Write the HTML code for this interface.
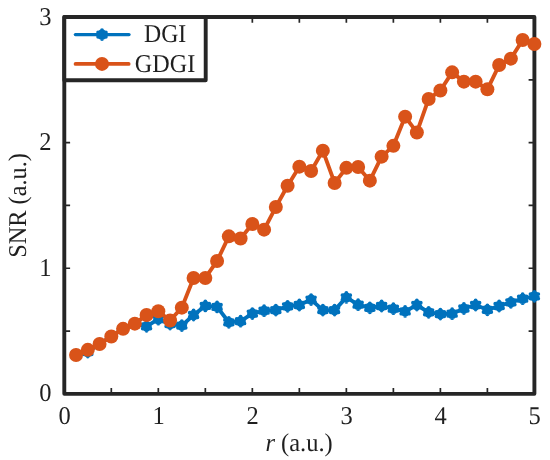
<!DOCTYPE html>
<html><head><meta charset="utf-8"><title>SNR plot</title>
<style>
html,body{margin:0;padding:0;background:#fff;}
body{width:550px;height:460px;overflow:hidden;}
svg{display:block;}
text{font-family:"Liberation Serif",serif;font-size:25.6px;text-rendering:geometricPrecision;fill:#1f1f1f;}
</style></head><body>
<svg width="550" height="460" viewBox="0 0 550 460">
<rect x="0" y="0" width="550" height="460" fill="#fff"/>
<path d="M111.31 393.85 v-5.8 M111.31 17.0 v5.8 M158.32 393.85 v-5.8 M158.32 17.0 v5.8 M205.33 393.85 v-5.8 M205.33 17.0 v5.8 M252.34 393.85 v-5.8 M252.34 17.0 v5.8 M299.35 393.85 v-5.8 M299.35 17.0 v5.8 M346.36 393.85 v-5.8 M346.36 17.0 v5.8 M393.37 393.85 v-5.8 M393.37 17.0 v5.8 M440.38 393.85 v-5.8 M440.38 17.0 v5.8 M487.39 393.85 v-5.8 M487.39 17.0 v5.8 M64.3 331.04 h5.8 M534.4 331.04 h-5.8 M64.3 268.23 h5.8 M534.4 268.23 h-5.8 M64.3 205.42 h5.8 M534.4 205.42 h-5.8 M64.3 142.62 h5.8 M534.4 142.62 h-5.8 M64.3 79.81 h5.8 M534.4 79.81 h-5.8" stroke="#262626" stroke-width="1.7" fill="none"/>
<rect x="64.3" y="17.0" width="470.10" height="376.85" fill="none" stroke="#262626" stroke-width="3.9" stroke-linejoin="round"/>
<polyline points="76.05,354.80 87.80,352.00 99.56,343.90 111.31,336.30 123.06,328.70 134.81,323.50 146.57,326.30 158.32,319.20 170.07,324.10 181.82,325.60 193.58,315.00 205.33,305.90 217.08,306.90 228.83,322.30 240.59,321.20 252.34,313.60 264.09,310.70 275.84,310.10 287.60,306.30 299.35,305.00 311.10,299.60 322.85,310.10 334.61,310.10 346.36,297.40 358.11,304.70 369.86,307.80 381.62,306.00 393.37,308.70 405.12,311.40 416.87,305.00 428.63,312.30 440.38,314.10 452.13,313.70 463.88,308.50 475.64,305.00 487.39,309.80 499.14,306.00 510.89,302.30 522.65,298.70 534.40,296.30" fill="none" stroke="#0072BD" stroke-width="3.9" stroke-linejoin="round" stroke-linecap="round"/>
<g fill="#0072BD">
<path d="M70.80 354.80a5.25 5.25 0 1 0 10.5 0a5.25 5.25 0 1 0 -10.5 0zM74.15 350.30a1.9 1.9 0 1 0 3.8 0a1.9 1.9 0 1 0 -3.8 0zM78.05 352.55a1.9 1.9 0 1 0 3.8 0a1.9 1.9 0 1 0 -3.8 0zM78.05 357.05a1.9 1.9 0 1 0 3.8 0a1.9 1.9 0 1 0 -3.8 0zM74.15 359.30a1.9 1.9 0 1 0 3.8 0a1.9 1.9 0 1 0 -3.8 0zM70.26 357.05a1.9 1.9 0 1 0 3.8 0a1.9 1.9 0 1 0 -3.8 0zM70.26 352.55a1.9 1.9 0 1 0 3.8 0a1.9 1.9 0 1 0 -3.8 0z"/>
<path d="M82.55 352.00a5.25 5.25 0 1 0 10.5 0a5.25 5.25 0 1 0 -10.5 0zM85.90 347.50a1.9 1.9 0 1 0 3.8 0a1.9 1.9 0 1 0 -3.8 0zM89.80 349.75a1.9 1.9 0 1 0 3.8 0a1.9 1.9 0 1 0 -3.8 0zM89.80 354.25a1.9 1.9 0 1 0 3.8 0a1.9 1.9 0 1 0 -3.8 0zM85.90 356.50a1.9 1.9 0 1 0 3.8 0a1.9 1.9 0 1 0 -3.8 0zM82.01 354.25a1.9 1.9 0 1 0 3.8 0a1.9 1.9 0 1 0 -3.8 0zM82.01 349.75a1.9 1.9 0 1 0 3.8 0a1.9 1.9 0 1 0 -3.8 0z"/>
<path d="M94.31 343.90a5.25 5.25 0 1 0 10.5 0a5.25 5.25 0 1 0 -10.5 0zM97.66 339.40a1.9 1.9 0 1 0 3.8 0a1.9 1.9 0 1 0 -3.8 0zM101.55 341.65a1.9 1.9 0 1 0 3.8 0a1.9 1.9 0 1 0 -3.8 0zM101.55 346.15a1.9 1.9 0 1 0 3.8 0a1.9 1.9 0 1 0 -3.8 0zM97.66 348.40a1.9 1.9 0 1 0 3.8 0a1.9 1.9 0 1 0 -3.8 0zM93.76 346.15a1.9 1.9 0 1 0 3.8 0a1.9 1.9 0 1 0 -3.8 0zM93.76 341.65a1.9 1.9 0 1 0 3.8 0a1.9 1.9 0 1 0 -3.8 0z"/>
<path d="M106.06 336.30a5.25 5.25 0 1 0 10.5 0a5.25 5.25 0 1 0 -10.5 0zM109.41 331.80a1.9 1.9 0 1 0 3.8 0a1.9 1.9 0 1 0 -3.8 0zM113.31 334.05a1.9 1.9 0 1 0 3.8 0a1.9 1.9 0 1 0 -3.8 0zM113.31 338.55a1.9 1.9 0 1 0 3.8 0a1.9 1.9 0 1 0 -3.8 0zM109.41 340.80a1.9 1.9 0 1 0 3.8 0a1.9 1.9 0 1 0 -3.8 0zM105.51 338.55a1.9 1.9 0 1 0 3.8 0a1.9 1.9 0 1 0 -3.8 0zM105.51 334.05a1.9 1.9 0 1 0 3.8 0a1.9 1.9 0 1 0 -3.8 0z"/>
<path d="M117.81 328.70a5.25 5.25 0 1 0 10.5 0a5.25 5.25 0 1 0 -10.5 0zM121.16 324.20a1.9 1.9 0 1 0 3.8 0a1.9 1.9 0 1 0 -3.8 0zM125.06 326.45a1.9 1.9 0 1 0 3.8 0a1.9 1.9 0 1 0 -3.8 0zM125.06 330.95a1.9 1.9 0 1 0 3.8 0a1.9 1.9 0 1 0 -3.8 0zM121.16 333.20a1.9 1.9 0 1 0 3.8 0a1.9 1.9 0 1 0 -3.8 0zM117.27 330.95a1.9 1.9 0 1 0 3.8 0a1.9 1.9 0 1 0 -3.8 0zM117.27 326.45a1.9 1.9 0 1 0 3.8 0a1.9 1.9 0 1 0 -3.8 0z"/>
<path d="M129.56 323.50a5.25 5.25 0 1 0 10.5 0a5.25 5.25 0 1 0 -10.5 0zM132.91 319.00a1.9 1.9 0 1 0 3.8 0a1.9 1.9 0 1 0 -3.8 0zM136.81 321.25a1.9 1.9 0 1 0 3.8 0a1.9 1.9 0 1 0 -3.8 0zM136.81 325.75a1.9 1.9 0 1 0 3.8 0a1.9 1.9 0 1 0 -3.8 0zM132.91 328.00a1.9 1.9 0 1 0 3.8 0a1.9 1.9 0 1 0 -3.8 0zM129.02 325.75a1.9 1.9 0 1 0 3.8 0a1.9 1.9 0 1 0 -3.8 0zM129.02 321.25a1.9 1.9 0 1 0 3.8 0a1.9 1.9 0 1 0 -3.8 0z"/>
<path d="M141.32 326.30a5.25 5.25 0 1 0 10.5 0a5.25 5.25 0 1 0 -10.5 0zM144.67 321.80a1.9 1.9 0 1 0 3.8 0a1.9 1.9 0 1 0 -3.8 0zM148.56 324.05a1.9 1.9 0 1 0 3.8 0a1.9 1.9 0 1 0 -3.8 0zM148.56 328.55a1.9 1.9 0 1 0 3.8 0a1.9 1.9 0 1 0 -3.8 0zM144.67 330.80a1.9 1.9 0 1 0 3.8 0a1.9 1.9 0 1 0 -3.8 0zM140.77 328.55a1.9 1.9 0 1 0 3.8 0a1.9 1.9 0 1 0 -3.8 0zM140.77 324.05a1.9 1.9 0 1 0 3.8 0a1.9 1.9 0 1 0 -3.8 0z"/>
<path d="M153.07 319.20a5.25 5.25 0 1 0 10.5 0a5.25 5.25 0 1 0 -10.5 0zM156.42 314.70a1.9 1.9 0 1 0 3.8 0a1.9 1.9 0 1 0 -3.8 0zM160.32 316.95a1.9 1.9 0 1 0 3.8 0a1.9 1.9 0 1 0 -3.8 0zM160.32 321.45a1.9 1.9 0 1 0 3.8 0a1.9 1.9 0 1 0 -3.8 0zM156.42 323.70a1.9 1.9 0 1 0 3.8 0a1.9 1.9 0 1 0 -3.8 0zM152.52 321.45a1.9 1.9 0 1 0 3.8 0a1.9 1.9 0 1 0 -3.8 0zM152.52 316.95a1.9 1.9 0 1 0 3.8 0a1.9 1.9 0 1 0 -3.8 0z"/>
<path d="M164.82 324.10a5.25 5.25 0 1 0 10.5 0a5.25 5.25 0 1 0 -10.5 0zM168.17 319.60a1.9 1.9 0 1 0 3.8 0a1.9 1.9 0 1 0 -3.8 0zM172.07 321.85a1.9 1.9 0 1 0 3.8 0a1.9 1.9 0 1 0 -3.8 0zM172.07 326.35a1.9 1.9 0 1 0 3.8 0a1.9 1.9 0 1 0 -3.8 0zM168.17 328.60a1.9 1.9 0 1 0 3.8 0a1.9 1.9 0 1 0 -3.8 0zM164.28 326.35a1.9 1.9 0 1 0 3.8 0a1.9 1.9 0 1 0 -3.8 0zM164.28 321.85a1.9 1.9 0 1 0 3.8 0a1.9 1.9 0 1 0 -3.8 0z"/>
<path d="M176.57 325.60a5.25 5.25 0 1 0 10.5 0a5.25 5.25 0 1 0 -10.5 0zM179.92 321.10a1.9 1.9 0 1 0 3.8 0a1.9 1.9 0 1 0 -3.8 0zM183.82 323.35a1.9 1.9 0 1 0 3.8 0a1.9 1.9 0 1 0 -3.8 0zM183.82 327.85a1.9 1.9 0 1 0 3.8 0a1.9 1.9 0 1 0 -3.8 0zM179.92 330.10a1.9 1.9 0 1 0 3.8 0a1.9 1.9 0 1 0 -3.8 0zM176.03 327.85a1.9 1.9 0 1 0 3.8 0a1.9 1.9 0 1 0 -3.8 0zM176.03 323.35a1.9 1.9 0 1 0 3.8 0a1.9 1.9 0 1 0 -3.8 0z"/>
<path d="M188.33 315.00a5.25 5.25 0 1 0 10.5 0a5.25 5.25 0 1 0 -10.5 0zM191.68 310.50a1.9 1.9 0 1 0 3.8 0a1.9 1.9 0 1 0 -3.8 0zM195.57 312.75a1.9 1.9 0 1 0 3.8 0a1.9 1.9 0 1 0 -3.8 0zM195.57 317.25a1.9 1.9 0 1 0 3.8 0a1.9 1.9 0 1 0 -3.8 0zM191.68 319.50a1.9 1.9 0 1 0 3.8 0a1.9 1.9 0 1 0 -3.8 0zM187.78 317.25a1.9 1.9 0 1 0 3.8 0a1.9 1.9 0 1 0 -3.8 0zM187.78 312.75a1.9 1.9 0 1 0 3.8 0a1.9 1.9 0 1 0 -3.8 0z"/>
<path d="M200.08 305.90a5.25 5.25 0 1 0 10.5 0a5.25 5.25 0 1 0 -10.5 0zM203.43 301.40a1.9 1.9 0 1 0 3.8 0a1.9 1.9 0 1 0 -3.8 0zM207.33 303.65a1.9 1.9 0 1 0 3.8 0a1.9 1.9 0 1 0 -3.8 0zM207.33 308.15a1.9 1.9 0 1 0 3.8 0a1.9 1.9 0 1 0 -3.8 0zM203.43 310.40a1.9 1.9 0 1 0 3.8 0a1.9 1.9 0 1 0 -3.8 0zM199.53 308.15a1.9 1.9 0 1 0 3.8 0a1.9 1.9 0 1 0 -3.8 0zM199.53 303.65a1.9 1.9 0 1 0 3.8 0a1.9 1.9 0 1 0 -3.8 0z"/>
<path d="M211.83 306.90a5.25 5.25 0 1 0 10.5 0a5.25 5.25 0 1 0 -10.5 0zM215.18 302.40a1.9 1.9 0 1 0 3.8 0a1.9 1.9 0 1 0 -3.8 0zM219.08 304.65a1.9 1.9 0 1 0 3.8 0a1.9 1.9 0 1 0 -3.8 0zM219.08 309.15a1.9 1.9 0 1 0 3.8 0a1.9 1.9 0 1 0 -3.8 0zM215.18 311.40a1.9 1.9 0 1 0 3.8 0a1.9 1.9 0 1 0 -3.8 0zM211.29 309.15a1.9 1.9 0 1 0 3.8 0a1.9 1.9 0 1 0 -3.8 0zM211.29 304.65a1.9 1.9 0 1 0 3.8 0a1.9 1.9 0 1 0 -3.8 0z"/>
<path d="M223.58 322.30a5.25 5.25 0 1 0 10.5 0a5.25 5.25 0 1 0 -10.5 0zM226.93 317.80a1.9 1.9 0 1 0 3.8 0a1.9 1.9 0 1 0 -3.8 0zM230.83 320.05a1.9 1.9 0 1 0 3.8 0a1.9 1.9 0 1 0 -3.8 0zM230.83 324.55a1.9 1.9 0 1 0 3.8 0a1.9 1.9 0 1 0 -3.8 0zM226.93 326.80a1.9 1.9 0 1 0 3.8 0a1.9 1.9 0 1 0 -3.8 0zM223.04 324.55a1.9 1.9 0 1 0 3.8 0a1.9 1.9 0 1 0 -3.8 0zM223.04 320.05a1.9 1.9 0 1 0 3.8 0a1.9 1.9 0 1 0 -3.8 0z"/>
<path d="M235.34 321.20a5.25 5.25 0 1 0 10.5 0a5.25 5.25 0 1 0 -10.5 0zM238.69 316.70a1.9 1.9 0 1 0 3.8 0a1.9 1.9 0 1 0 -3.8 0zM242.58 318.95a1.9 1.9 0 1 0 3.8 0a1.9 1.9 0 1 0 -3.8 0zM242.58 323.45a1.9 1.9 0 1 0 3.8 0a1.9 1.9 0 1 0 -3.8 0zM238.69 325.70a1.9 1.9 0 1 0 3.8 0a1.9 1.9 0 1 0 -3.8 0zM234.79 323.45a1.9 1.9 0 1 0 3.8 0a1.9 1.9 0 1 0 -3.8 0zM234.79 318.95a1.9 1.9 0 1 0 3.8 0a1.9 1.9 0 1 0 -3.8 0z"/>
<path d="M247.09 313.60a5.25 5.25 0 1 0 10.5 0a5.25 5.25 0 1 0 -10.5 0zM250.44 309.10a1.9 1.9 0 1 0 3.8 0a1.9 1.9 0 1 0 -3.8 0zM254.34 311.35a1.9 1.9 0 1 0 3.8 0a1.9 1.9 0 1 0 -3.8 0zM254.34 315.85a1.9 1.9 0 1 0 3.8 0a1.9 1.9 0 1 0 -3.8 0zM250.44 318.10a1.9 1.9 0 1 0 3.8 0a1.9 1.9 0 1 0 -3.8 0zM246.54 315.85a1.9 1.9 0 1 0 3.8 0a1.9 1.9 0 1 0 -3.8 0zM246.54 311.35a1.9 1.9 0 1 0 3.8 0a1.9 1.9 0 1 0 -3.8 0z"/>
<path d="M258.84 310.70a5.25 5.25 0 1 0 10.5 0a5.25 5.25 0 1 0 -10.5 0zM262.19 306.20a1.9 1.9 0 1 0 3.8 0a1.9 1.9 0 1 0 -3.8 0zM266.09 308.45a1.9 1.9 0 1 0 3.8 0a1.9 1.9 0 1 0 -3.8 0zM266.09 312.95a1.9 1.9 0 1 0 3.8 0a1.9 1.9 0 1 0 -3.8 0zM262.19 315.20a1.9 1.9 0 1 0 3.8 0a1.9 1.9 0 1 0 -3.8 0zM258.30 312.95a1.9 1.9 0 1 0 3.8 0a1.9 1.9 0 1 0 -3.8 0zM258.30 308.45a1.9 1.9 0 1 0 3.8 0a1.9 1.9 0 1 0 -3.8 0z"/>
<path d="M270.59 310.10a5.25 5.25 0 1 0 10.5 0a5.25 5.25 0 1 0 -10.5 0zM273.94 305.60a1.9 1.9 0 1 0 3.8 0a1.9 1.9 0 1 0 -3.8 0zM277.84 307.85a1.9 1.9 0 1 0 3.8 0a1.9 1.9 0 1 0 -3.8 0zM277.84 312.35a1.9 1.9 0 1 0 3.8 0a1.9 1.9 0 1 0 -3.8 0zM273.94 314.60a1.9 1.9 0 1 0 3.8 0a1.9 1.9 0 1 0 -3.8 0zM270.05 312.35a1.9 1.9 0 1 0 3.8 0a1.9 1.9 0 1 0 -3.8 0zM270.05 307.85a1.9 1.9 0 1 0 3.8 0a1.9 1.9 0 1 0 -3.8 0z"/>
<path d="M282.35 306.30a5.25 5.25 0 1 0 10.5 0a5.25 5.25 0 1 0 -10.5 0zM285.70 301.80a1.9 1.9 0 1 0 3.8 0a1.9 1.9 0 1 0 -3.8 0zM289.59 304.05a1.9 1.9 0 1 0 3.8 0a1.9 1.9 0 1 0 -3.8 0zM289.59 308.55a1.9 1.9 0 1 0 3.8 0a1.9 1.9 0 1 0 -3.8 0zM285.70 310.80a1.9 1.9 0 1 0 3.8 0a1.9 1.9 0 1 0 -3.8 0zM281.80 308.55a1.9 1.9 0 1 0 3.8 0a1.9 1.9 0 1 0 -3.8 0zM281.80 304.05a1.9 1.9 0 1 0 3.8 0a1.9 1.9 0 1 0 -3.8 0z"/>
<path d="M294.10 305.00a5.25 5.25 0 1 0 10.5 0a5.25 5.25 0 1 0 -10.5 0zM297.45 300.50a1.9 1.9 0 1 0 3.8 0a1.9 1.9 0 1 0 -3.8 0zM301.35 302.75a1.9 1.9 0 1 0 3.8 0a1.9 1.9 0 1 0 -3.8 0zM301.35 307.25a1.9 1.9 0 1 0 3.8 0a1.9 1.9 0 1 0 -3.8 0zM297.45 309.50a1.9 1.9 0 1 0 3.8 0a1.9 1.9 0 1 0 -3.8 0zM293.55 307.25a1.9 1.9 0 1 0 3.8 0a1.9 1.9 0 1 0 -3.8 0zM293.55 302.75a1.9 1.9 0 1 0 3.8 0a1.9 1.9 0 1 0 -3.8 0z"/>
<path d="M305.85 299.60a5.25 5.25 0 1 0 10.5 0a5.25 5.25 0 1 0 -10.5 0zM309.20 295.10a1.9 1.9 0 1 0 3.8 0a1.9 1.9 0 1 0 -3.8 0zM313.10 297.35a1.9 1.9 0 1 0 3.8 0a1.9 1.9 0 1 0 -3.8 0zM313.10 301.85a1.9 1.9 0 1 0 3.8 0a1.9 1.9 0 1 0 -3.8 0zM309.20 304.10a1.9 1.9 0 1 0 3.8 0a1.9 1.9 0 1 0 -3.8 0zM305.31 301.85a1.9 1.9 0 1 0 3.8 0a1.9 1.9 0 1 0 -3.8 0zM305.31 297.35a1.9 1.9 0 1 0 3.8 0a1.9 1.9 0 1 0 -3.8 0z"/>
<path d="M317.60 310.10a5.25 5.25 0 1 0 10.5 0a5.25 5.25 0 1 0 -10.5 0zM320.95 305.60a1.9 1.9 0 1 0 3.8 0a1.9 1.9 0 1 0 -3.8 0zM324.85 307.85a1.9 1.9 0 1 0 3.8 0a1.9 1.9 0 1 0 -3.8 0zM324.85 312.35a1.9 1.9 0 1 0 3.8 0a1.9 1.9 0 1 0 -3.8 0zM320.95 314.60a1.9 1.9 0 1 0 3.8 0a1.9 1.9 0 1 0 -3.8 0zM317.06 312.35a1.9 1.9 0 1 0 3.8 0a1.9 1.9 0 1 0 -3.8 0zM317.06 307.85a1.9 1.9 0 1 0 3.8 0a1.9 1.9 0 1 0 -3.8 0z"/>
<path d="M329.36 310.10a5.25 5.25 0 1 0 10.5 0a5.25 5.25 0 1 0 -10.5 0zM332.71 305.60a1.9 1.9 0 1 0 3.8 0a1.9 1.9 0 1 0 -3.8 0zM336.60 307.85a1.9 1.9 0 1 0 3.8 0a1.9 1.9 0 1 0 -3.8 0zM336.60 312.35a1.9 1.9 0 1 0 3.8 0a1.9 1.9 0 1 0 -3.8 0zM332.71 314.60a1.9 1.9 0 1 0 3.8 0a1.9 1.9 0 1 0 -3.8 0zM328.81 312.35a1.9 1.9 0 1 0 3.8 0a1.9 1.9 0 1 0 -3.8 0zM328.81 307.85a1.9 1.9 0 1 0 3.8 0a1.9 1.9 0 1 0 -3.8 0z"/>
<path d="M341.11 297.40a5.25 5.25 0 1 0 10.5 0a5.25 5.25 0 1 0 -10.5 0zM344.46 292.90a1.9 1.9 0 1 0 3.8 0a1.9 1.9 0 1 0 -3.8 0zM348.36 295.15a1.9 1.9 0 1 0 3.8 0a1.9 1.9 0 1 0 -3.8 0zM348.36 299.65a1.9 1.9 0 1 0 3.8 0a1.9 1.9 0 1 0 -3.8 0zM344.46 301.90a1.9 1.9 0 1 0 3.8 0a1.9 1.9 0 1 0 -3.8 0zM340.56 299.65a1.9 1.9 0 1 0 3.8 0a1.9 1.9 0 1 0 -3.8 0zM340.56 295.15a1.9 1.9 0 1 0 3.8 0a1.9 1.9 0 1 0 -3.8 0z"/>
<path d="M352.86 304.70a5.25 5.25 0 1 0 10.5 0a5.25 5.25 0 1 0 -10.5 0zM356.21 300.20a1.9 1.9 0 1 0 3.8 0a1.9 1.9 0 1 0 -3.8 0zM360.11 302.45a1.9 1.9 0 1 0 3.8 0a1.9 1.9 0 1 0 -3.8 0zM360.11 306.95a1.9 1.9 0 1 0 3.8 0a1.9 1.9 0 1 0 -3.8 0zM356.21 309.20a1.9 1.9 0 1 0 3.8 0a1.9 1.9 0 1 0 -3.8 0zM352.32 306.95a1.9 1.9 0 1 0 3.8 0a1.9 1.9 0 1 0 -3.8 0zM352.32 302.45a1.9 1.9 0 1 0 3.8 0a1.9 1.9 0 1 0 -3.8 0z"/>
<path d="M364.61 307.80a5.25 5.25 0 1 0 10.5 0a5.25 5.25 0 1 0 -10.5 0zM367.96 303.30a1.9 1.9 0 1 0 3.8 0a1.9 1.9 0 1 0 -3.8 0zM371.86 305.55a1.9 1.9 0 1 0 3.8 0a1.9 1.9 0 1 0 -3.8 0zM371.86 310.05a1.9 1.9 0 1 0 3.8 0a1.9 1.9 0 1 0 -3.8 0zM367.96 312.30a1.9 1.9 0 1 0 3.8 0a1.9 1.9 0 1 0 -3.8 0zM364.07 310.05a1.9 1.9 0 1 0 3.8 0a1.9 1.9 0 1 0 -3.8 0zM364.07 305.55a1.9 1.9 0 1 0 3.8 0a1.9 1.9 0 1 0 -3.8 0z"/>
<path d="M376.37 306.00a5.25 5.25 0 1 0 10.5 0a5.25 5.25 0 1 0 -10.5 0zM379.72 301.50a1.9 1.9 0 1 0 3.8 0a1.9 1.9 0 1 0 -3.8 0zM383.61 303.75a1.9 1.9 0 1 0 3.8 0a1.9 1.9 0 1 0 -3.8 0zM383.61 308.25a1.9 1.9 0 1 0 3.8 0a1.9 1.9 0 1 0 -3.8 0zM379.72 310.50a1.9 1.9 0 1 0 3.8 0a1.9 1.9 0 1 0 -3.8 0zM375.82 308.25a1.9 1.9 0 1 0 3.8 0a1.9 1.9 0 1 0 -3.8 0zM375.82 303.75a1.9 1.9 0 1 0 3.8 0a1.9 1.9 0 1 0 -3.8 0z"/>
<path d="M388.12 308.70a5.25 5.25 0 1 0 10.5 0a5.25 5.25 0 1 0 -10.5 0zM391.47 304.20a1.9 1.9 0 1 0 3.8 0a1.9 1.9 0 1 0 -3.8 0zM395.37 306.45a1.9 1.9 0 1 0 3.8 0a1.9 1.9 0 1 0 -3.8 0zM395.37 310.95a1.9 1.9 0 1 0 3.8 0a1.9 1.9 0 1 0 -3.8 0zM391.47 313.20a1.9 1.9 0 1 0 3.8 0a1.9 1.9 0 1 0 -3.8 0zM387.57 310.95a1.9 1.9 0 1 0 3.8 0a1.9 1.9 0 1 0 -3.8 0zM387.57 306.45a1.9 1.9 0 1 0 3.8 0a1.9 1.9 0 1 0 -3.8 0z"/>
<path d="M399.87 311.40a5.25 5.25 0 1 0 10.5 0a5.25 5.25 0 1 0 -10.5 0zM403.22 306.90a1.9 1.9 0 1 0 3.8 0a1.9 1.9 0 1 0 -3.8 0zM407.12 309.15a1.9 1.9 0 1 0 3.8 0a1.9 1.9 0 1 0 -3.8 0zM407.12 313.65a1.9 1.9 0 1 0 3.8 0a1.9 1.9 0 1 0 -3.8 0zM403.22 315.90a1.9 1.9 0 1 0 3.8 0a1.9 1.9 0 1 0 -3.8 0zM399.33 313.65a1.9 1.9 0 1 0 3.8 0a1.9 1.9 0 1 0 -3.8 0zM399.33 309.15a1.9 1.9 0 1 0 3.8 0a1.9 1.9 0 1 0 -3.8 0z"/>
<path d="M411.62 305.00a5.25 5.25 0 1 0 10.5 0a5.25 5.25 0 1 0 -10.5 0zM414.97 300.50a1.9 1.9 0 1 0 3.8 0a1.9 1.9 0 1 0 -3.8 0zM418.87 302.75a1.9 1.9 0 1 0 3.8 0a1.9 1.9 0 1 0 -3.8 0zM418.87 307.25a1.9 1.9 0 1 0 3.8 0a1.9 1.9 0 1 0 -3.8 0zM414.97 309.50a1.9 1.9 0 1 0 3.8 0a1.9 1.9 0 1 0 -3.8 0zM411.08 307.25a1.9 1.9 0 1 0 3.8 0a1.9 1.9 0 1 0 -3.8 0zM411.08 302.75a1.9 1.9 0 1 0 3.8 0a1.9 1.9 0 1 0 -3.8 0z"/>
<path d="M423.38 312.30a5.25 5.25 0 1 0 10.5 0a5.25 5.25 0 1 0 -10.5 0zM426.73 307.80a1.9 1.9 0 1 0 3.8 0a1.9 1.9 0 1 0 -3.8 0zM430.62 310.05a1.9 1.9 0 1 0 3.8 0a1.9 1.9 0 1 0 -3.8 0zM430.62 314.55a1.9 1.9 0 1 0 3.8 0a1.9 1.9 0 1 0 -3.8 0zM426.73 316.80a1.9 1.9 0 1 0 3.8 0a1.9 1.9 0 1 0 -3.8 0zM422.83 314.55a1.9 1.9 0 1 0 3.8 0a1.9 1.9 0 1 0 -3.8 0zM422.83 310.05a1.9 1.9 0 1 0 3.8 0a1.9 1.9 0 1 0 -3.8 0z"/>
<path d="M435.13 314.10a5.25 5.25 0 1 0 10.5 0a5.25 5.25 0 1 0 -10.5 0zM438.48 309.60a1.9 1.9 0 1 0 3.8 0a1.9 1.9 0 1 0 -3.8 0zM442.38 311.85a1.9 1.9 0 1 0 3.8 0a1.9 1.9 0 1 0 -3.8 0zM442.38 316.35a1.9 1.9 0 1 0 3.8 0a1.9 1.9 0 1 0 -3.8 0zM438.48 318.60a1.9 1.9 0 1 0 3.8 0a1.9 1.9 0 1 0 -3.8 0zM434.58 316.35a1.9 1.9 0 1 0 3.8 0a1.9 1.9 0 1 0 -3.8 0zM434.58 311.85a1.9 1.9 0 1 0 3.8 0a1.9 1.9 0 1 0 -3.8 0z"/>
<path d="M446.88 313.70a5.25 5.25 0 1 0 10.5 0a5.25 5.25 0 1 0 -10.5 0zM450.23 309.20a1.9 1.9 0 1 0 3.8 0a1.9 1.9 0 1 0 -3.8 0zM454.13 311.45a1.9 1.9 0 1 0 3.8 0a1.9 1.9 0 1 0 -3.8 0zM454.13 315.95a1.9 1.9 0 1 0 3.8 0a1.9 1.9 0 1 0 -3.8 0zM450.23 318.20a1.9 1.9 0 1 0 3.8 0a1.9 1.9 0 1 0 -3.8 0zM446.34 315.95a1.9 1.9 0 1 0 3.8 0a1.9 1.9 0 1 0 -3.8 0zM446.34 311.45a1.9 1.9 0 1 0 3.8 0a1.9 1.9 0 1 0 -3.8 0z"/>
<path d="M458.63 308.50a5.25 5.25 0 1 0 10.5 0a5.25 5.25 0 1 0 -10.5 0zM461.99 304.00a1.9 1.9 0 1 0 3.8 0a1.9 1.9 0 1 0 -3.8 0zM465.88 306.25a1.9 1.9 0 1 0 3.8 0a1.9 1.9 0 1 0 -3.8 0zM465.88 310.75a1.9 1.9 0 1 0 3.8 0a1.9 1.9 0 1 0 -3.8 0zM461.99 313.00a1.9 1.9 0 1 0 3.8 0a1.9 1.9 0 1 0 -3.8 0zM458.09 310.75a1.9 1.9 0 1 0 3.8 0a1.9 1.9 0 1 0 -3.8 0zM458.09 306.25a1.9 1.9 0 1 0 3.8 0a1.9 1.9 0 1 0 -3.8 0z"/>
<path d="M470.39 305.00a5.25 5.25 0 1 0 10.5 0a5.25 5.25 0 1 0 -10.5 0zM473.74 300.50a1.9 1.9 0 1 0 3.8 0a1.9 1.9 0 1 0 -3.8 0zM477.63 302.75a1.9 1.9 0 1 0 3.8 0a1.9 1.9 0 1 0 -3.8 0zM477.63 307.25a1.9 1.9 0 1 0 3.8 0a1.9 1.9 0 1 0 -3.8 0zM473.74 309.50a1.9 1.9 0 1 0 3.8 0a1.9 1.9 0 1 0 -3.8 0zM469.84 307.25a1.9 1.9 0 1 0 3.8 0a1.9 1.9 0 1 0 -3.8 0zM469.84 302.75a1.9 1.9 0 1 0 3.8 0a1.9 1.9 0 1 0 -3.8 0z"/>
<path d="M482.14 309.80a5.25 5.25 0 1 0 10.5 0a5.25 5.25 0 1 0 -10.5 0zM485.49 305.30a1.9 1.9 0 1 0 3.8 0a1.9 1.9 0 1 0 -3.8 0zM489.39 307.55a1.9 1.9 0 1 0 3.8 0a1.9 1.9 0 1 0 -3.8 0zM489.39 312.05a1.9 1.9 0 1 0 3.8 0a1.9 1.9 0 1 0 -3.8 0zM485.49 314.30a1.9 1.9 0 1 0 3.8 0a1.9 1.9 0 1 0 -3.8 0zM481.59 312.05a1.9 1.9 0 1 0 3.8 0a1.9 1.9 0 1 0 -3.8 0zM481.59 307.55a1.9 1.9 0 1 0 3.8 0a1.9 1.9 0 1 0 -3.8 0z"/>
<path d="M493.89 306.00a5.25 5.25 0 1 0 10.5 0a5.25 5.25 0 1 0 -10.5 0zM497.24 301.50a1.9 1.9 0 1 0 3.8 0a1.9 1.9 0 1 0 -3.8 0zM501.14 303.75a1.9 1.9 0 1 0 3.8 0a1.9 1.9 0 1 0 -3.8 0zM501.14 308.25a1.9 1.9 0 1 0 3.8 0a1.9 1.9 0 1 0 -3.8 0zM497.24 310.50a1.9 1.9 0 1 0 3.8 0a1.9 1.9 0 1 0 -3.8 0zM493.35 308.25a1.9 1.9 0 1 0 3.8 0a1.9 1.9 0 1 0 -3.8 0zM493.35 303.75a1.9 1.9 0 1 0 3.8 0a1.9 1.9 0 1 0 -3.8 0z"/>
<path d="M505.64 302.30a5.25 5.25 0 1 0 10.5 0a5.25 5.25 0 1 0 -10.5 0zM509.00 297.80a1.9 1.9 0 1 0 3.8 0a1.9 1.9 0 1 0 -3.8 0zM512.89 300.05a1.9 1.9 0 1 0 3.8 0a1.9 1.9 0 1 0 -3.8 0zM512.89 304.55a1.9 1.9 0 1 0 3.8 0a1.9 1.9 0 1 0 -3.8 0zM509.00 306.80a1.9 1.9 0 1 0 3.8 0a1.9 1.9 0 1 0 -3.8 0zM505.10 304.55a1.9 1.9 0 1 0 3.8 0a1.9 1.9 0 1 0 -3.8 0zM505.10 300.05a1.9 1.9 0 1 0 3.8 0a1.9 1.9 0 1 0 -3.8 0z"/>
<path d="M517.40 298.70a5.25 5.25 0 1 0 10.5 0a5.25 5.25 0 1 0 -10.5 0zM520.75 294.20a1.9 1.9 0 1 0 3.8 0a1.9 1.9 0 1 0 -3.8 0zM524.64 296.45a1.9 1.9 0 1 0 3.8 0a1.9 1.9 0 1 0 -3.8 0zM524.64 300.95a1.9 1.9 0 1 0 3.8 0a1.9 1.9 0 1 0 -3.8 0zM520.75 303.20a1.9 1.9 0 1 0 3.8 0a1.9 1.9 0 1 0 -3.8 0zM516.85 300.95a1.9 1.9 0 1 0 3.8 0a1.9 1.9 0 1 0 -3.8 0zM516.85 296.45a1.9 1.9 0 1 0 3.8 0a1.9 1.9 0 1 0 -3.8 0z"/>
<path d="M529.15 296.30a5.25 5.25 0 1 0 10.5 0a5.25 5.25 0 1 0 -10.5 0zM532.50 291.80a1.9 1.9 0 1 0 3.8 0a1.9 1.9 0 1 0 -3.8 0zM536.40 294.05a1.9 1.9 0 1 0 3.8 0a1.9 1.9 0 1 0 -3.8 0zM536.40 298.55a1.9 1.9 0 1 0 3.8 0a1.9 1.9 0 1 0 -3.8 0zM532.50 300.80a1.9 1.9 0 1 0 3.8 0a1.9 1.9 0 1 0 -3.8 0zM528.60 298.55a1.9 1.9 0 1 0 3.8 0a1.9 1.9 0 1 0 -3.8 0zM528.60 294.05a1.9 1.9 0 1 0 3.8 0a1.9 1.9 0 1 0 -3.8 0z"/>
</g>
<polyline points="76.05,354.95 87.80,349.85 99.56,344.05 111.31,336.45 123.06,328.85 134.81,323.65 146.57,314.95 158.32,311.25 170.07,320.55 181.82,307.65 193.58,277.95 205.33,277.95 217.08,260.95 228.83,236.35 240.59,238.45 252.34,224.05 264.09,229.65 275.84,207.05 287.60,185.75 299.35,166.65 311.10,170.95 322.85,150.65 334.61,182.95 346.36,167.85 358.11,166.95 369.86,180.65 381.62,156.65 393.37,145.85 405.12,116.65 416.87,132.45 428.63,98.95 440.38,90.55 452.13,72.35 463.88,81.65 475.64,81.65 487.39,89.35 499.14,65.05 510.89,58.65 522.65,40.05 534.40,43.95" fill="none" stroke="#D95319" stroke-width="3.9" stroke-linejoin="round" stroke-linecap="round"/>
<g fill="#D95319">
<circle cx="76.05" cy="354.95" r="7.0"/>
<circle cx="87.80" cy="349.85" r="7.0"/>
<circle cx="99.56" cy="344.05" r="7.0"/>
<circle cx="111.31" cy="336.45" r="7.0"/>
<circle cx="123.06" cy="328.85" r="7.0"/>
<circle cx="134.81" cy="323.65" r="7.0"/>
<circle cx="146.57" cy="314.95" r="7.0"/>
<circle cx="158.32" cy="311.25" r="7.0"/>
<circle cx="170.07" cy="320.55" r="7.0"/>
<circle cx="181.82" cy="307.65" r="7.0"/>
<circle cx="193.58" cy="277.95" r="7.0"/>
<circle cx="205.33" cy="277.95" r="7.0"/>
<circle cx="217.08" cy="260.95" r="7.0"/>
<circle cx="228.83" cy="236.35" r="7.0"/>
<circle cx="240.59" cy="238.45" r="7.0"/>
<circle cx="252.34" cy="224.05" r="7.0"/>
<circle cx="264.09" cy="229.65" r="7.0"/>
<circle cx="275.84" cy="207.05" r="7.0"/>
<circle cx="287.60" cy="185.75" r="7.0"/>
<circle cx="299.35" cy="166.65" r="7.0"/>
<circle cx="311.10" cy="170.95" r="7.0"/>
<circle cx="322.85" cy="150.65" r="7.0"/>
<circle cx="334.61" cy="182.95" r="7.0"/>
<circle cx="346.36" cy="167.85" r="7.0"/>
<circle cx="358.11" cy="166.95" r="7.0"/>
<circle cx="369.86" cy="180.65" r="7.0"/>
<circle cx="381.62" cy="156.65" r="7.0"/>
<circle cx="393.37" cy="145.85" r="7.0"/>
<circle cx="405.12" cy="116.65" r="7.0"/>
<circle cx="416.87" cy="132.45" r="7.0"/>
<circle cx="428.63" cy="98.95" r="7.0"/>
<circle cx="440.38" cy="90.55" r="7.0"/>
<circle cx="452.13" cy="72.35" r="7.0"/>
<circle cx="463.88" cy="81.65" r="7.0"/>
<circle cx="475.64" cy="81.65" r="7.0"/>
<circle cx="487.39" cy="89.35" r="7.0"/>
<circle cx="499.14" cy="65.05" r="7.0"/>
<circle cx="510.89" cy="58.65" r="7.0"/>
<circle cx="522.65" cy="40.05" r="7.0"/>
<circle cx="534.40" cy="43.95" r="7.0"/>
</g>
<rect x="64.3" y="17.0" width="141.40" height="63.20" fill="#fff" stroke="#262626" stroke-width="3.9" stroke-linejoin="round"/>
<path d="M75.4 34.6 H129.0" stroke="#0072BD" stroke-width="3.3" stroke-linecap="round"/>
<g fill="#0072BD"><path d="M96.75 34.60a5.25 5.25 0 1 0 10.5 0a5.25 5.25 0 1 0 -10.5 0zM100.10 30.10a1.9 1.9 0 1 0 3.8 0a1.9 1.9 0 1 0 -3.8 0zM104.00 32.35a1.9 1.9 0 1 0 3.8 0a1.9 1.9 0 1 0 -3.8 0zM104.00 36.85a1.9 1.9 0 1 0 3.8 0a1.9 1.9 0 1 0 -3.8 0zM100.10 39.10a1.9 1.9 0 1 0 3.8 0a1.9 1.9 0 1 0 -3.8 0zM96.20 36.85a1.9 1.9 0 1 0 3.8 0a1.9 1.9 0 1 0 -3.8 0zM96.20 32.35a1.9 1.9 0 1 0 3.8 0a1.9 1.9 0 1 0 -3.8 0z"/></g>
<path d="M75.6 63.9 H128.6" stroke="#D95319" stroke-width="3.9" stroke-linecap="round"/>
<circle cx="102.0" cy="63.9" r="7.0" fill="#D95319"/>
<text transform="translate(165.10 42.00) scale(0.93 1)" text-anchor="middle">DGI</text>
<text transform="translate(165.10 71.80) scale(0.945 1)" text-anchor="middle">GDGI</text>
<text transform="translate(64.50 424.40) scale(0.957 1)" text-anchor="middle">0</text>
<text transform="translate(158.52 424.40) scale(0.957 1)" text-anchor="middle">1</text>
<text transform="translate(252.54 424.40) scale(0.957 1)" text-anchor="middle">2</text>
<text transform="translate(346.56 424.40) scale(0.957 1)" text-anchor="middle">3</text>
<text transform="translate(440.58 424.40) scale(0.957 1)" text-anchor="middle">4</text>
<text transform="translate(534.60 424.40) scale(0.957 1)" text-anchor="middle">5</text>
<text transform="translate(51.50 401.30) scale(0.957 1)" text-anchor="end">0</text>
<text transform="translate(51.50 275.80) scale(0.957 1)" text-anchor="end">1</text>
<text transform="translate(51.50 150.30) scale(0.957 1)" text-anchor="end">2</text>
<text transform="translate(51.50 24.80) scale(0.957 1)" text-anchor="end">3</text>
<text transform="translate(299.10 450.50) scale(0.957 1)" text-anchor="middle"><tspan font-style="italic">r</tspan> (a.u.)</text>
<text transform="translate(25.90 205.50) rotate(-90) scale(0.95 1)" text-anchor="middle">SNR (a.u.)</text>
</svg></body></html>
